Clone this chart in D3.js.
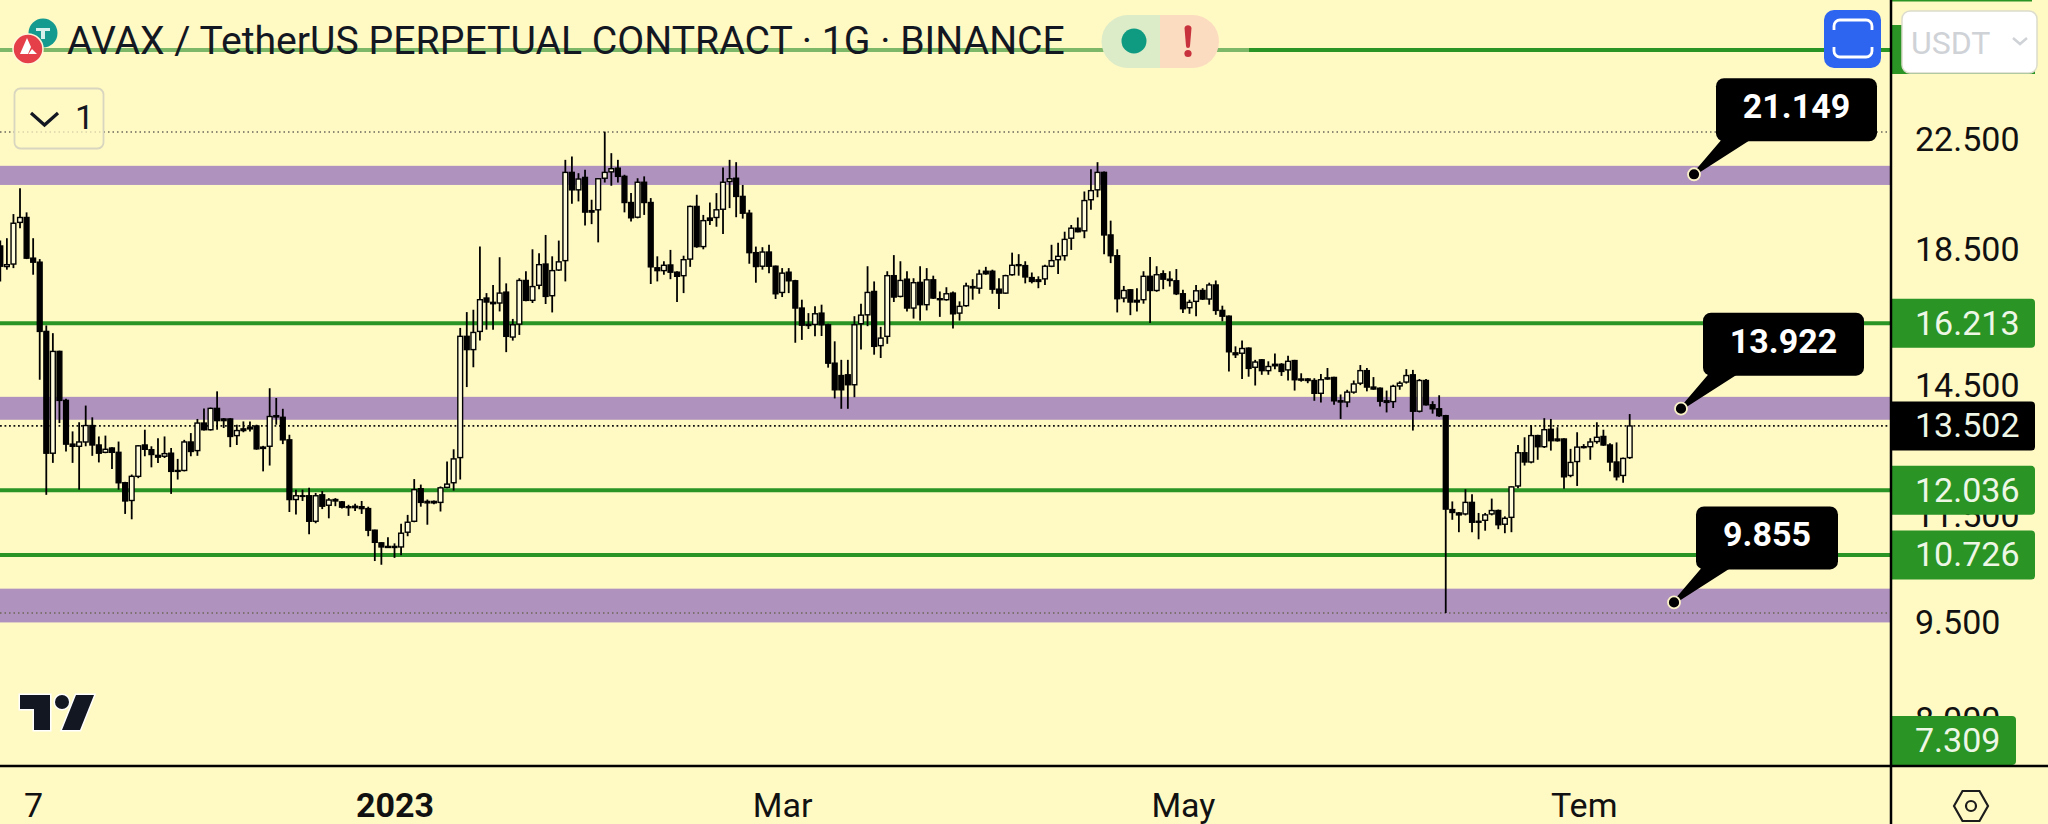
<!DOCTYPE html>
<html>
<head>
<meta charset="utf-8">
<script src="https://cdn.jsdelivr.net/npm/d3@7"></script>
<style>
  html, body { margin: 0; padding: 0; background: #fff9c4; }
  svg { display: block; font-family: Roboto, sans-serif; }
</style>
</head>
<body>
<div id="chart"></div>
<script>
// daily candles as [open, high, low, close]
const nov22 = [
  [18.61,18.79,17.47,17.95],[17.94,18.87,17.84,18.00],[18.02,19.70,17.89,19.38],[19.41,20.63,19.21,19.58],
  [19.58,19.76,18.18,18.21],[18.21,18.87,17.68,18.08],[18.08,18.18,14.66,15.98],[15.98,16.15,11.94,12.86],
  [12.86,15.93,12.64,15.42],[15.42,15.44,13.57,14.13],[14.13,14.17,12.90,13.07],[13.07,13.37,12.64,13.02],
  [13.02,13.59,12.05,13.12],[13.12,14.00,13.02,13.51],[13.51,13.71,12.80,13.05],[13.05,13.25,12.65,12.86],
  [12.88,13.27,12.86,12.95],[12.98,13.00,12.50,12.88],[12.88,13.13,12.05,12.20],[12.20,12.22,11.54,11.81],
  [11.82,12.38,11.43,12.34],[12.34,13.05,12.30,13.03],[13.05,13.41,12.79,12.95],[12.94,13.02,12.54,12.83],
  [12.81,13.21,12.64,12.77],[12.79,13.25,12.75,12.85],[12.86,12.98,11.96,12.45],[12.47,12.73,12.27,12.45],
  [12.47,13.17,12.45,13.12]
];
const dec22 = [
  [13.12,13.33,12.79,12.90],[12.92,13.67,12.80,13.57],[13.57,13.93,13.39,13.41],[13.41,13.95,13.39,13.93],
  [13.93,14.36,13.41,13.63],[13.67,13.69,13.45,13.63],[13.67,13.69,13.00,13.25],[13.27,13.53,13.05,13.39],
  [13.43,13.61,13.35,13.39],[13.47,13.61,13.37,13.43],[13.50,13.53,12.94,12.96],[13.00,13.03,12.45,12.97],
  [13.02,14.44,12.58,13.73],[13.75,14.19,13.53,13.72],[13.71,13.92,13.07,13.17],[13.17,13.29,11.58,11.84],
  [11.84,12.05,11.53,11.92],[11.92,12.05,11.81,11.91],[11.92,12.09,11.13,11.39],[11.39,11.98,11.35,11.92],
  [11.94,12.02,11.64,11.70],[11.72,11.87,11.45,11.83],[11.84,11.87,11.70,11.81],[11.79,11.81,11.65,11.68],
  [11.69,11.73,11.50,11.67],[11.70,11.75,11.60,11.67],[11.69,11.81,11.54,11.65],[11.65,11.69,11.09,11.21],
  [11.21,11.22,10.61,10.97],[10.96,10.97,10.54,10.88],[10.89,11.07,10.86,10.87]
];
const jan23 = [
  [10.89,10.95,10.67,10.87],[10.88,11.34,10.72,11.15],[11.17,11.52,11.09,11.37],[11.39,12.28,11.37,12.05],
  [12.07,12.16,11.69,11.78],[11.80,11.84,11.32,11.77],[11.80,11.82,11.74,11.77],[11.78,12.12,11.59,12.09],
  [12.10,12.67,12.08,12.17],[12.20,12.95,12.03,12.73],[12.76,16.08,12.27,15.84],[15.84,16.54,14.47,15.47],
  [15.47,16.61,14.99,15.95],[15.98,18.59,15.72,16.91],[16.96,17.11,16.03,16.84],[16.83,17.36,16.03,16.79],
  [16.81,18.24,16.56,17.11],[17.14,17.41,15.40,15.84],[15.82,16.34,15.72,16.17],[16.19,17.57,15.88,17.50],
  [17.50,17.79,16.86,16.89],[16.89,18.50,16.81,17.31],[17.35,18.37,17.23,18.00],[18.02,18.98,16.78,17.01],
  [17.03,18.27,16.53,17.81],[17.83,18.79,17.80,18.09],[18.13,21.70,17.47,21.22],[21.22,21.83,20.07,20.57],
  [20.57,21.19,20.15,20.97],[21.03,21.32,19.30,19.77],[19.82,20.21,19.35,19.77]
];
const feb23 = [
  [19.85,21.00,18.73,20.98],[21.00,22.82,20.84,21.22],[21.24,21.96,20.72,21.36],[21.38,21.70,20.84,21.07],
  [21.07,21.13,19.76,20.11],[20.11,20.45,19.44,19.57],[19.59,21.00,19.55,20.85],[20.85,21.07,19.67,20.11],
  [20.11,20.27,17.39,17.93],[17.90,18.27,17.47,17.81],[17.81,18.11,17.68,17.98],[17.99,18.48,17.54,17.76],
  [17.76,17.79,16.84,17.63],[17.65,18.29,17.11,18.16],[18.18,20.00,17.93,19.97],[19.97,20.39,18.55,18.59],
  [18.59,19.67,18.50,19.47],[19.56,20.11,19.32,19.48],[19.58,20.45,19.26,19.85],[19.87,21.41,19.01,20.85],
  [20.88,21.70,19.91,20.98],[21.00,21.61,19.59,20.33],[20.33,20.75,19.54,19.73],[19.73,19.85,18.03,18.39],
  [18.39,18.59,17.43,17.94],[17.95,18.57,17.84,18.41],[18.41,18.65,17.73,17.95],[17.95,17.97,16.93,17.09]
];
const mar23 = [
  [17.13,17.89,16.99,17.73],[17.76,17.89,17.11,17.49],[17.49,17.52,15.66,16.66],[16.66,16.91,15.74,16.16],
  [16.18,16.51,16.05,16.15],[16.18,16.71,15.84,16.49],[16.51,16.76,15.85,16.17],[16.17,16.20,14.98,15.10],
  [15.10,15.70,14.18,14.40],[14.77,15.19,13.92,14.40],[14.79,15.19,13.92,14.53],[14.53,16.42,14.21,16.17],
  [16.20,16.79,15.47,16.45],[16.46,17.95,16.13,17.13],[17.16,17.47,15.33,15.56],[15.58,16.11,15.24,15.79],
  [15.84,17.79,15.63,17.65],[17.65,18.31,16.84,16.99],[17.01,18.11,16.98,17.50],[17.54,17.79,16.56,16.66],
  [16.66,17.57,16.35,17.43],[17.44,17.95,16.29,16.76],[16.76,17.89,16.59,17.52],[17.52,17.65,16.93,16.96],
  [16.94,17.16,16.40,16.91],[16.91,17.29,16.88,17.09],[17.11,17.16,16.06,16.49],[16.51,16.86,16.29,16.71],
  [16.73,17.43,16.70,17.33],[17.31,17.54,16.91,17.27],[17.26,17.84,17.09,17.70]
];
const apr23 = [
  [17.79,17.93,17.68,17.71],[17.79,17.84,17.09,17.23],[17.23,17.57,16.63,17.11],[17.11,17.68,17.09,17.65],
  [17.68,18.39,17.65,17.98],[18.00,18.34,17.65,17.97],[17.97,18.11,17.41,17.61],[17.59,17.75,17.41,17.47],
  [17.52,17.63,17.26,17.47],[17.55,18.00,17.36,17.95],[17.95,18.65,17.92,18.13],[18.16,18.72,17.70,18.27],
  [18.29,19.09,18.13,18.83],[18.87,19.32,18.48,19.21],[19.21,19.58,19.07,19.09],[19.12,20.51,18.87,20.18],
  [20.21,21.34,19.85,20.54],[20.57,21.61,20.30,21.22],[21.22,21.25,18.34,18.98],[18.98,19.47,18.05,18.29],
  [18.29,18.50,16.53,16.94],[16.96,17.33,16.83,17.19],[17.21,17.23,16.45,16.84],[16.89,17.26,16.56,16.84],
  [16.91,17.79,16.79,17.63],[17.63,18.25,16.22,17.19],[17.19,17.95,17.15,17.68],[17.71,17.82,17.23,17.54],
  [17.54,17.79,17.31,17.50],[17.49,17.86,17.05,17.09]
];
const may23 = [
  [17.09,17.21,16.51,16.64],[16.67,16.91,16.49,16.83],[16.86,17.36,16.42,17.18],[17.19,17.26,16.90,16.93],
  [16.93,17.43,16.76,17.36],[17.36,17.50,16.46,16.59],[16.59,16.73,16.27,16.42],[16.42,16.44,14.88,15.41],
  [15.38,15.56,15.24,15.33],[15.37,15.72,14.68,15.50],[15.51,15.53,14.74,14.96],[14.99,15.19,14.51,15.13],
  [15.19,15.21,14.79,14.90],[14.90,15.15,14.79,15.01],[15.07,15.36,14.94,15.03],[15.07,15.10,14.76,14.88],
  [14.92,15.30,14.64,15.15],[15.17,15.19,14.38,14.66],[14.68,14.83,14.61,14.65],[14.68,14.70,14.57,14.64],
  [14.64,14.70,14.12,14.31],[14.31,14.81,14.08,14.66],[14.71,14.97,14.66,14.68],[14.72,14.74,14.02,14.12],
  [14.12,14.28,13.67,14.09],[14.09,14.40,13.96,14.34],[14.34,14.64,14.30,14.55],[14.57,15.05,14.52,14.90],
  [14.90,14.97,14.36,14.47],[14.47,14.73,14.40,14.42],[14.44,14.46,13.98,14.11]
];
const jun23 = [
  [14.12,14.38,13.83,14.08],[14.10,14.53,13.94,14.49],[14.50,14.62,14.40,14.57],[14.60,14.94,14.56,14.77],
  [14.79,14.92,13.39,13.86],[13.86,14.68,13.83,14.64],[14.64,14.68,14.00,14.02],[14.02,14.11,13.80,13.92],
  [13.92,14.26,13.72,13.75],[13.75,13.77,9.67,11.64],[11.63,11.80,11.42,11.57],[11.56,11.58,11.17,11.52],
  [11.54,12.06,11.51,11.78],[11.78,11.95,11.17,11.37],[11.39,11.56,11.03,11.37],[11.41,11.56,11.20,11.52],
  [11.54,11.86,11.51,11.61],[11.61,11.63,11.23,11.32],[11.33,11.49,11.15,11.45],[11.47,12.12,11.17,12.11],
  [12.13,13.05,12.08,12.87],[12.87,13.23,12.58,12.66],[12.66,13.52,12.63,13.27],[13.27,13.29,12.71,13.01],
  [13.01,13.69,12.98,13.41],[13.42,13.67,12.92,13.15],[13.19,13.47,13.13,13.15],[13.19,13.21,12.07,12.33],
  [12.36,12.96,12.32,12.65],[12.67,13.35,12.13,13.00]
];
const jul23 = [
  [13.01,13.07,12.97,12.99],[13.01,13.21,12.71,13.12],[13.13,13.59,13.08,13.23],[13.25,13.41,13.03,13.05],
  [13.05,13.09,12.45,12.66],[12.66,13.11,12.25,12.33],[12.36,12.76,12.20,12.74],[12.76,13.79,12.73,13.50]
];

// horizontal levels
const greenLevels = [16.213, 12.036, 10.726];
const greenLabels = ['16.213', '12.036', '10.726'];
const topLevel = 26.4;
const lastPrice = 13.502;
const highPrice = 22.8;
const lowPrice = 9.67;
const bandTops = [21.47, 14.22, 10.10];
const bandBottoms = [20.75, 13.65, 9.51];

// callouts
const calloutPrices = [21.149, 13.922, 9.855];
const calloutTexts = ['21.149', '13.922', '9.855'];

// axes
const priceTicks = [22.5, 18.5, 14.5, 11.5, 9.5, 8];
const timeTicks = [new Date(Date.UTC(2022, 10, 7)), new Date(Date.UTC(2023, 0, 1)), new Date(Date.UTC(2023, 2, 1)),
                   new Date(Date.UTC(2023, 4, 1)), new Date(Date.UTC(2023, 6, 1))];
const timeLabels = ['7', '2023', 'Mar', 'May', 'Tem'];

const W = 2048, H = 824;
const plotRight = 1891, plotBottom = 766;
const bg = '#fff9c4', green = '#2a9425', purple = '#b092be', ink = '#131722';

const firstDay = new Date(Date.UTC(2022, 10, 2));
const candles = [...nov22, ...dec22, ...jan23, ...feb23, ...mar23, ...apr23, ...may23, ...jun23, ...jul23]
  .map((d, i) => ({ date: d3.utcDay.offset(firstDay, i), o: d[0], h: d[1], l: d[2], c: d[3] }));

const x = d3.scaleUtc()
  .domain([firstDay, candles[candles.length - 1].date])
  .range([0.3, 1629.7]);
const y = d3.scaleLog()
  .domain([22.5, 9.5])
  .range([139.55, 623]);

const svg = d3.select('#chart').append('svg')
  .attr('width', W)
  .attr('height', H);

svg.append('rect').attr('width', W).attr('height', H).attr('fill', bg);

const defs = svg.append('defs');
defs.append('clipPath').attr('id', 'plot').append('rect')
  .attr('width', plotRight).attr('height', plotBottom);

const plot = svg.append('g').attr('clip-path', 'url(#plot)');

// purple zones
plot.selectAll('.band')
  .data(bandTops)
  .enter().append('rect')
  .attr('class', 'band')
  .attr('x', 0)
  .attr('width', plotRight)
  .attr('y', d => y(d))
  .attr('height', (d, i) => y(bandBottoms[i]) - y(d))
  .attr('fill', purple);

// high / low dotted lines
plot.selectAll('.extreme')
  .data([highPrice, lowPrice])
  .enter().append('line')
  .attr('x1', 0).attr('x2', plotRight)
  .attr('y1', d => y(d)).attr('y2', d => y(d))
  .attr('stroke', '#6b6658')
  .attr('stroke-width', 1.5)
  .attr('stroke-dasharray', '1.5 3');

// status pill under the top line
svg.append('path').attr('d', 'M1160 15H1128a26.5 26.5 0 0 0 0 53H1160Z').attr('fill', '#dcebc8');
svg.append('path').attr('d', 'M1160 15H1192.5a26.5 26.5 0 0 1 0 53H1160Z').attr('fill', '#fcdcc0');

// top level line, washed out behind the legend
plot.append('line')
  .attr('x1', 0).attr('x2', 1249)
  .attr('y1', y(topLevel)).attr('y2', y(topLevel))
  .attr('stroke', '#7db868').attr('stroke-width', 4);
plot.append('line')
  .attr('x1', 1249).attr('x2', plotRight)
  .attr('y1', y(topLevel)).attr('y2', y(topLevel))
  .attr('stroke', green).attr('stroke-width', 4);

// callout boxes: the 16.213 line runs over its box, the 10.726 line goes under its box
const calloutWidths = [161, 161, 142];
const dotX = [1694, 1681, 1674];
function callout(parent, i) {
  const px = dotX[i], py = y(calloutPrices[i]);
  parent.append('path')
    .attr('d', `M${px} ${py}L${px + 29} ${py - 34}L${px + 53} ${py - 34}Z`)
    .attr('fill', '#000').attr('stroke', '#000').attr('stroke-width', 3);
  parent.append('rect')
    .attr('x', px + 22).attr('y', py - 96)
    .attr('width', calloutWidths[i]).attr('height', 63)
    .attr('rx', 8)
    .attr('fill', '#000');
  parent.append('circle')
    .attr('cx', px).attr('cy', py).attr('r', 6)
    .attr('fill', '#000').attr('stroke', '#fbf3c8').attr('stroke-width', 1.8);
  parent.append('text')
    .attr('x', px + 22 + calloutWidths[i] / 2)
    .attr('y', py - 56)
    .attr('text-anchor', 'middle')
    .attr('font-size', 34)
    .attr('font-weight', 700)
    .attr('fill', '#fff')
    .text(calloutTexts[i]);
}
callout(svg, 0);
callout(svg, 1);

// green levels
plot.selectAll('.level')
  .data(greenLevels)
  .enter().append('line')
  .attr('x1', 0)
  .attr('x2', plotRight)
  .attr('y1', d => y(d)).attr('y2', d => y(d))
  .attr('stroke', green).attr('stroke-width', 4);

callout(svg, 2);

// last price dotted line
plot.append('line')
  .attr('x1', 0).attr('x2', plotRight)
  .attr('y1', y(lastPrice)).attr('y2', y(lastPrice))
  .attr('stroke', '#111')
  .attr('stroke-width', 1.8)
  .attr('stroke-dasharray', '1.8 2.7');

// candles
const bars = svg.append('g').attr('clip-path', 'url(#plot)').selectAll('.candle')
  .data(candles)
  .enter().append('g')
  .attr('class', 'candle');

bars.append('line')
  .attr('x1', d => x(d.date)).attr('x2', d => x(d.date))
  .attr('y1', d => y(d.h)).attr('y2', d => y(d.l))
  .attr('stroke', '#000')
  .attr('stroke-width', 1.8);

bars.append('rect')
  .attr('x', d => x(d.date) - 2.4)
  .attr('width', 4.8)
  .attr('y', d => y(Math.max(d.o, d.c)))
  .attr('height', d => Math.max(0.6, Math.abs(y(d.o) - y(d.c))))
  .attr('fill', d => d.c >= d.o ? '#fffcdc' : '#000')
  .attr('stroke', '#000')
  .attr('stroke-width', 1.4);

// price axis
const yAxis = svg.append('g')
  .attr('transform', `translate(${plotRight},0)`)
  .call(d3.axisRight(y).tickValues(priceTicks).tickSize(0).tickPadding(24).tickFormat(d3.format('.3f')));
yAxis.select('.domain').remove();
yAxis.selectAll('text').attr('font-size', 34).attr('font-family', 'Roboto, sans-serif').attr('fill', '#111');

// time axis
const xAxis = svg.append('g')
  .attr('transform', `translate(0,${plotBottom})`)
  .call(d3.axisBottom(x).tickValues(timeTicks).tickSize(0).tickPadding(27)
    .tickFormat((d, i) => timeLabels[i]));
xAxis.select('.domain').remove();
xAxis.selectAll('text')
  .attr('font-size', 34)
  .attr('font-family', 'Roboto, sans-serif')
  .attr('font-weight', (d, i) => timeLabels[i] === '2023' ? 700 : 400)
  .attr('fill', '#111');

// scale tags on the price axis
function priceTag(label, fill, tagWidth, cy) {
  svg.append('path')
    .attr('d', `M${plotRight} ${cy - 24.5}H${plotRight + tagWidth - 4}a4 4 0 0 1 4 4V${cy + 20.5}a4 4 0 0 1 -4 4H${plotRight}Z`)
    .attr('fill', fill);
  svg.append('text')
    .attr('x', plotRight + 24)
    .attr('y', cy + 11.5)
    .attr('font-size', 34)
    .attr('fill', '#eef7e6')
    .text(label);
}
greenLevels.forEach((d, i) => priceTag(greenLabels[i], green, 144, y(d)));
priceTag('13.502', '#000', 144, y(lastPrice));
priceTag('7.309', green, 125, 740.5);

// top tag, hidden behind the currency button, plus the clipped one above it
svg.append('rect').attr('x', plotRight).attr('y', 25).attr('width', 144).attr('height', 49).attr('fill', green);
svg.append('rect').attr('x', plotRight).attr('y', 0).attr('width', 141).attr('height', 1.5).attr('fill', green);

// frame lines
svg.append('line').attr('x1', plotRight).attr('x2', plotRight).attr('y1', 0).attr('y2', H)
  .attr('stroke', '#000').attr('stroke-width', 2.5);
svg.append('line').attr('x1', 0).attr('x2', W).attr('y1', plotBottom).attr('y2', plotBottom)
  .attr('stroke', '#000').attr('stroke-width', 2.5);

// legend title
svg.append('text')
  .attr('x', 67)
  .attr('y', 54)
  .attr('font-size', 39.2)
  .attr('fill', ink)
  .text('AVAX / TetherUS PERPETUAL CONTRACT · 1G · BINANCE');

// coin icons
svg.append('circle').attr('cx', 43).attr('cy', 33).attr('r', 14.5).attr('fill', '#159a8f');
svg.append('path').attr('d', 'M36 28H50V31H45V39H41V31H36Z').attr('fill', '#d8f0ec');
svg.append('circle').attr('cx', 28).attr('cy', 49).attr('r', 15).attr('fill', '#e5404a').attr('stroke', '#fff7d8').attr('stroke-width', 1.5);
svg.append('path').attr('d', 'M27 38L20 54H28L31 47Z M32 49L28.5 54H37Z').attr('fill', '#fff');

// collapse button
svg.append('rect').attr('x', 14.5).attr('y', 88.5).attr('width', 89).attr('height', 60).attr('rx', 6)
  .attr('fill', bg).attr('fill-opacity', 0.75).attr('stroke', '#d9d6c0').attr('stroke-width', 1.8);
svg.append('path').attr('d', 'M31 113L44.5 125L58 113').attr('fill', 'none').attr('stroke', ink).attr('stroke-width', 3.2);
svg.append('text').attr('x', 75).attr('y', 129).attr('font-size', 34).attr('fill', ink).text('1');

// status pill marks
svg.append('circle').attr('cx', 1134).attr('cy', 41).attr('r', 12.5).attr('fill', '#0f9b82');
svg.append('path').attr('d', 'M1184.5 28a3.6 3.6 0 0 1 7 0L1190 46a2 2 0 0 1 -4 0Z').attr('fill', '#c8323c');
svg.append('circle').attr('cx', 1188).attr('cy', 53.5).attr('r', 3.6).attr('fill', '#c8323c');

// fullscreen button
svg.append('rect').attr('x', 1824).attr('y', 10).attr('width', 57).attr('height', 58).attr('rx', 10).attr('fill', '#2d64f0');
svg.append('path')
  .attr('d', 'M1834 30V26a6 6 0 0 1 6 -6H1866a6 6 0 0 1 6 6V30M1834 47V51a6 6 0 0 0 6 6H1866a6 6 0 0 0 6 -6V47')
  .attr('fill', 'none').attr('stroke', '#fff').attr('stroke-width', 2.8);

// currency button
svg.append('rect').attr('x', 1902).attr('y', 11).attr('width', 135).attr('height', 62).attr('rx', 8)
  .attr('fill', '#fff').attr('stroke', '#dcdccc').attr('stroke-width', 1.5);
svg.append('text').attr('x', 1911).attr('y', 54).attr('font-size', 32).attr('fill', '#cfd2d6').text('USDT');
svg.append('path').attr('d', 'M2013 38L2020 44L2027 38').attr('fill', 'none').attr('stroke', '#cfd2d6').attr('stroke-width', 2.5);

// tradingview mark
const logo = svg.append('g').attr('fill', ink).attr('stroke', '#fff').attr('stroke-width', 3).attr('paint-order', 'stroke');
logo.append('path').attr('d', 'M20 695H50V730H34V709H20Z');
logo.append('circle').attr('cx', 62).attr('cy', 702).attr('r', 7);
logo.append('path').attr('d', 'M76 695H94L80 730H62Z');

// settings hexagon
svg.append('path').attr('d', 'M1954 806L1962.5 791H1979.5L1988 806L1979.5 821H1962.5Z')
  .attr('fill', 'none').attr('stroke', '#1c1c1c').attr('stroke-width', 2.2);
svg.append('circle').attr('cx', 1971).attr('cy', 806).attr('r', 5).attr('fill', 'none').attr('stroke', '#1c1c1c').attr('stroke-width', 2.2);
</script>
</body>
</html>
